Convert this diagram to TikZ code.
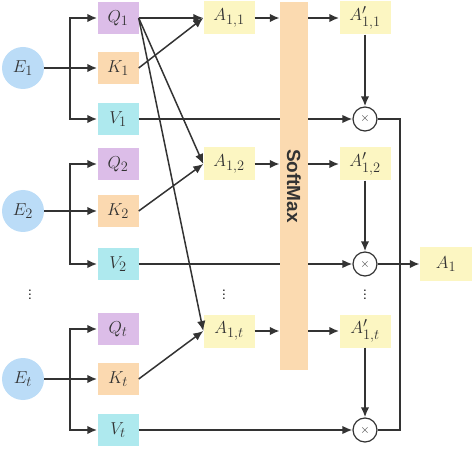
\documentclass[tikz,border=0pt]{standalone}
\usepackage{amsmath,amssymb}
\usepackage{fontspec}
\newfontfamily\barfont{Liberation Sans}
\usetikzlibrary{arrows.meta,positioning}
\definecolor{ink}{HTML}{333333}
\definecolor{embcol}{HTML}{BBDCF7}
\definecolor{qcol}{HTML}{DCBDE8}
\definecolor{kcol}{HTML}{FBD9B0}
\definecolor{vcol}{HTML}{AEE9EE}
\definecolor{acol}{HTML}{FCF6C2}
\definecolor{softcol}{HTML}{FBDAB0}
\newcommand{\boxfont}{\fontsize{19}{22}\selectfont}
\tikzstyle{emb} = [circle,fill=embcol,minimum size=42pt,inner sep=0,text=ink,font=\boxfont]
\tikzstyle{vec} = [rectangle,minimum width=41pt,minimum height=32pt,inner sep=0,text=ink,font=\boxfont]
\tikzstyle{score} = [rectangle,fill=acol,minimum width=51pt,minimum height=33pt,inner sep=0,text=ink,font=\boxfont]
\tikzstyle{mult} = [draw=ink,circle,fill=white,line width=1.2pt,minimum size=24pt,inner sep=0,text=ink,font=\large]
\tikzstyle{link} = [draw=ink,line width=2.1pt]
\tikzstyle{flow} = [link,-{Latex[length=10pt,width=8.5pt]}]
\tikzstyle{branch} = [flow,line width=2.5pt]
\tikzstyle{attn} = [flow,line width=1.5pt]
\def \xb {70}

\begin{document}
\begin{tikzpicture}[x=1pt,y=-1pt]
  \useasboundingbox (0,0) rectangle (474,449);
  % inputs and their q, k, v
  \foreach \n/\yq/\yk/\yv in {1/18/68/119, 2/164/211/264, t/329/379/430} {
    \node[emb] (E\n) at (23,\yk) {$E_\n$};
    \node[vec,fill=qcol] (Q\n) at (118,\yq) {$Q_\n$};
    \node[vec,fill=kcol] (K\n) at (118,\yk) {$K_\n$};
    \node[vec,fill=vcol] (V\n) at (118,\yv) {$V_\n$};
    \coordinate (b\n) at (\xb,\yk);
    \draw[branch] (E\n) -- (K\n);
    \draw[branch] (b\n) |- (Q\n);
    \draw[branch] (b\n) |- (V\n);
  }
  \node (d1) at (30,292) {\boxfont$\vdots$};
  % scores
  \node[score] (A11) at (229,18) {$A_{1,1}$};
  \node[score] (A12) at (229,164) {$A_{1,2}$};
  \node[score] (A1t) at (229,331) {$A_{1,t}$};
  \node (d2) at (224,292) {\boxfont$\vdots$};
  \node[score] (P11) at (365,18) {$A'_{1,1}$};
  \node[score] (P12) at (365,164) {$A'_{1,2}$};
  \node[score] (P1t) at (365,331) {$A'_{1,t}$};
  \node (d3) at (365,292) {\boxfont$\vdots$};
  \node[mult] (m1) at (365,119) {$\times$};
  \node[mult] (m2) at (365,264) {$\times$};
  \node[mult] (m3) at (365,430) {$\times$};
  \node[score,minimum width=52pt] (A1) at (446,264) {$A_1$};
  % query and key pairs
  \draw[attn] (Q1.east) -- (A11.west);
  \draw[attn] (Q1.east) -- (A12.west);
  \draw[attn] (Q1.east) -- (A1t.west);
  \draw[attn] (K1.east) -- (A11.west);
  \draw[attn] (K2.east) -- (A12.west);
  \draw[attn] (Kt.east) -- (A1t.west);
  % values
  \draw[flow,line width=1.7pt] (V1) -- (m1);
  \draw[flow,line width=1.7pt] (V2) -- (m2);
  \draw[flow,line width=1.7pt] (Vt) -- (m3);
  \node[fill=softcol,minimum width=28pt,minimum height=368pt,inner sep=0] (soft) at (294,186) {};
  \node[rotate=-90,text=ink,font=\barfont\bfseries\fontsize{19}{22}\selectfont] (sm) at (294,186) {SoftMax};
  \foreach \a/\p in {A11/P11, A12/P12, A1t/P1t} {
    \draw[flow] (\a) -- (\a -| soft.west);
    \draw[flow] (\a -| soft.east) -- (\p);
  }
  \draw[flow] (P11) -- (m1);
  \draw[flow] (P12) -- (m2);
  \draw[flow] (P1t) -- (m3);
  % sum
  \coordinate (r1) at (400,119);
  \draw[link] (m1) -- (r1) |- (m3);
  \draw[flow] (m2) -- (A1);
\end{tikzpicture}
\end{document}
